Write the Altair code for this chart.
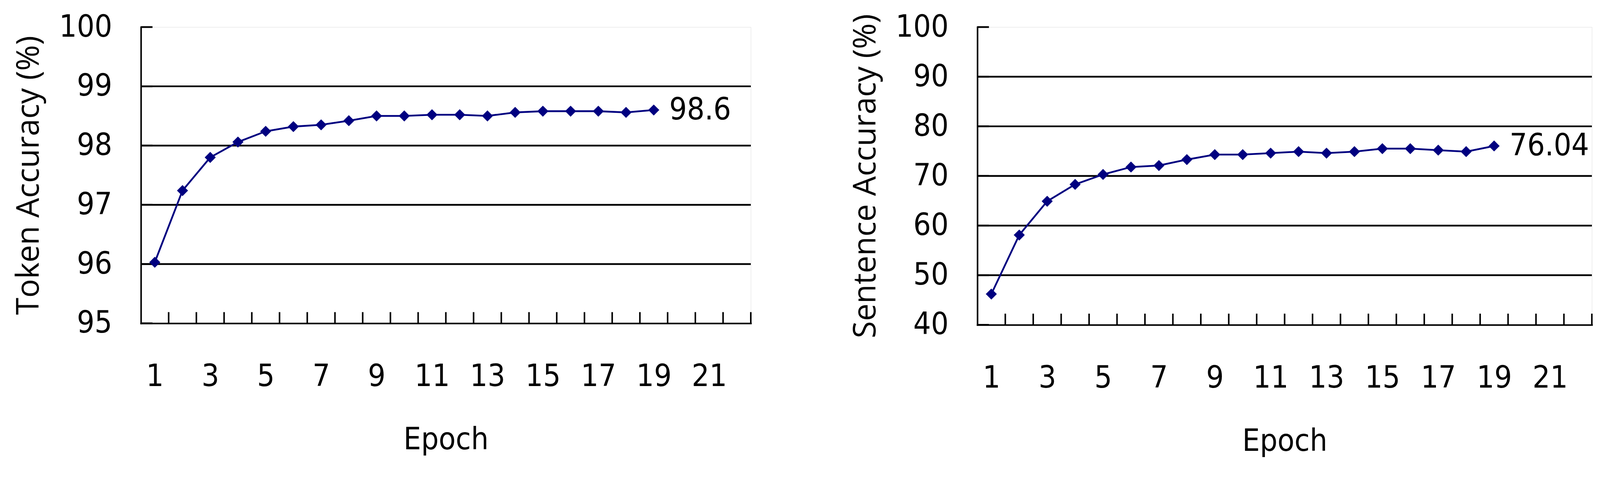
import altair as alt
import pandas as pd

# ---- data ----
epochs = list(range(1, 23))                      # category axis: 1 .. 22
x_labels = [1, 3, 5, 7, 9, 11, 13, 15, 17, 19, 21]

token_acc = [96.03, 97.24, 97.80, 98.06, 98.24, 98.32, 98.35, 98.42, 98.50, 98.50,
             98.52, 98.52, 98.50, 98.56, 98.58, 98.58, 98.58, 98.56, 98.60]
sent_acc = [46.2, 58.1, 64.9, 68.3, 70.3, 71.8, 72.1, 73.3, 74.3, 74.3,
            74.6, 74.9, 74.6, 74.9, 75.5, 75.5, 75.2, 74.9, 76.04]

token_ticks = [95, 96, 97, 98, 99, 100]
sent_ticks = [40, 50, 60, 70, 80, 90, 100]

token_end_label = "98.6"
sent_end_label = "76.04"

token_title = "Token Accuracy (%)"
sent_title = "Sentence Accuracy (%)"
x_title = "Epoch"

NAVY = "#000080"
NUM_FONT = "DejaVu Sans Condensed, DejaVu Sans"
TITLE_FONT = "Open Sans"


def panel(values, yticks, ytitle, end_label, W, H):
    df = pd.DataFrame({"epoch": epochs[:len(values)], "acc": values})
    lab = df.tail(1).assign(label=end_label)
    grid = pd.DataFrame({"v": yticks[1:-1]})
    ytk = pd.DataFrame({"v": yticks})
    xb = pd.DataFrame({"b": [e + 0.5 for e in epochs]})

    xs = alt.Scale(domain=[epochs[0] - 0.5, epochs[-1] + 0.5], nice=False, zero=False)
    ys = alt.Scale(domain=[yticks[0], yticks[-1]], nice=False, zero=False)

    xaxis = alt.Axis(values=x_labels, title=x_title, ticks=False, tickSize=0, grid=False,
                     domainColor="black", domainWidth=4, domainCap="square",
                     labelFont=NUM_FONT, labelFontSize=80, labelColor="black",
                     labelPadding=99, labelFlush=False, labelOverlap=False,
                     titleFont=NUM_FONT, titleFontSize=80, titleFontWeight="normal",
                     titleColor="black", titlePadding=85)
    yaxis = alt.Axis(values=yticks, title=ytitle, ticks=False, tickSize=0, grid=False,
                     domainColor="black", domainWidth=4, domainCap="square",
                     labelFont=NUM_FONT, labelFontSize=80, labelColor="black",
                     labelPadding=75, labelFlush=False, labelOverlap=False,
                     titleFont=TITLE_FONT, titleFontSize=81, titleFontWeight="normal",
                     titleColor="black", titlePadding=48)

    gridrules = alt.Chart(grid).mark_rule(color="black", strokeWidth=4.5).encode(
        y=alt.Y("v:Q", scale=ys, axis=yaxis), x=alt.value(0), x2=alt.value(W))
    ytickrules = alt.Chart(ytk).mark_rule(color="black", strokeWidth=4.5).encode(
        y=alt.Y("v:Q", scale=ys, axis=yaxis), x=alt.value(0), x2=alt.value(30))
    xtickrules = alt.Chart(xb).mark_rule(color="black", strokeWidth=4).encode(
        x=alt.X("b:Q", scale=xs, axis=xaxis), y=alt.value(H), y2=alt.value(H - 29))

    line = alt.Chart(df).mark_line(color=NAVY, strokeWidth=4.6).encode(
        x=alt.X("epoch:Q", scale=xs, axis=xaxis),
        y=alt.Y("acc:Q", scale=ys, axis=yaxis))
    pts = alt.Chart(df).mark_point(shape="diamond", filled=True, size=820,
                                   color=NAVY, opacity=1).encode(
        x=alt.X("epoch:Q", scale=xs, axis=xaxis), y=alt.Y("acc:Q", scale=ys, axis=yaxis))
    txt = alt.Chart(lab).mark_text(align="left", baseline="middle", dx=40,
                                   font=NUM_FONT, fontSize=80, color="black").encode(
        x=alt.X("epoch:Q", scale=xs, axis=xaxis), y=alt.Y("acc:Q", scale=ys, axis=yaxis),
        text="label:N")

    return alt.layer(gridrules, ytickrules, xtickrules, line, pts, txt).properties(
        width=W, height=H)


left = panel(token_acc, token_ticks, token_title, token_end_label, 1580, 768)
right = panel(sent_acc, sent_ticks, sent_title, sent_end_label, 1592, 772)

chart = alt.hconcat(left, right, spacing=253).properties(
    padding={"left": 26, "top": 14, "right": 10, "bottom": 10}
).configure_view(strokeWidth=0, stroke="transparent", strokeOpacity=0).configure(
    background="white")

chart.save("out.html", embed_options={"renderer": "svg", "actions": False})
